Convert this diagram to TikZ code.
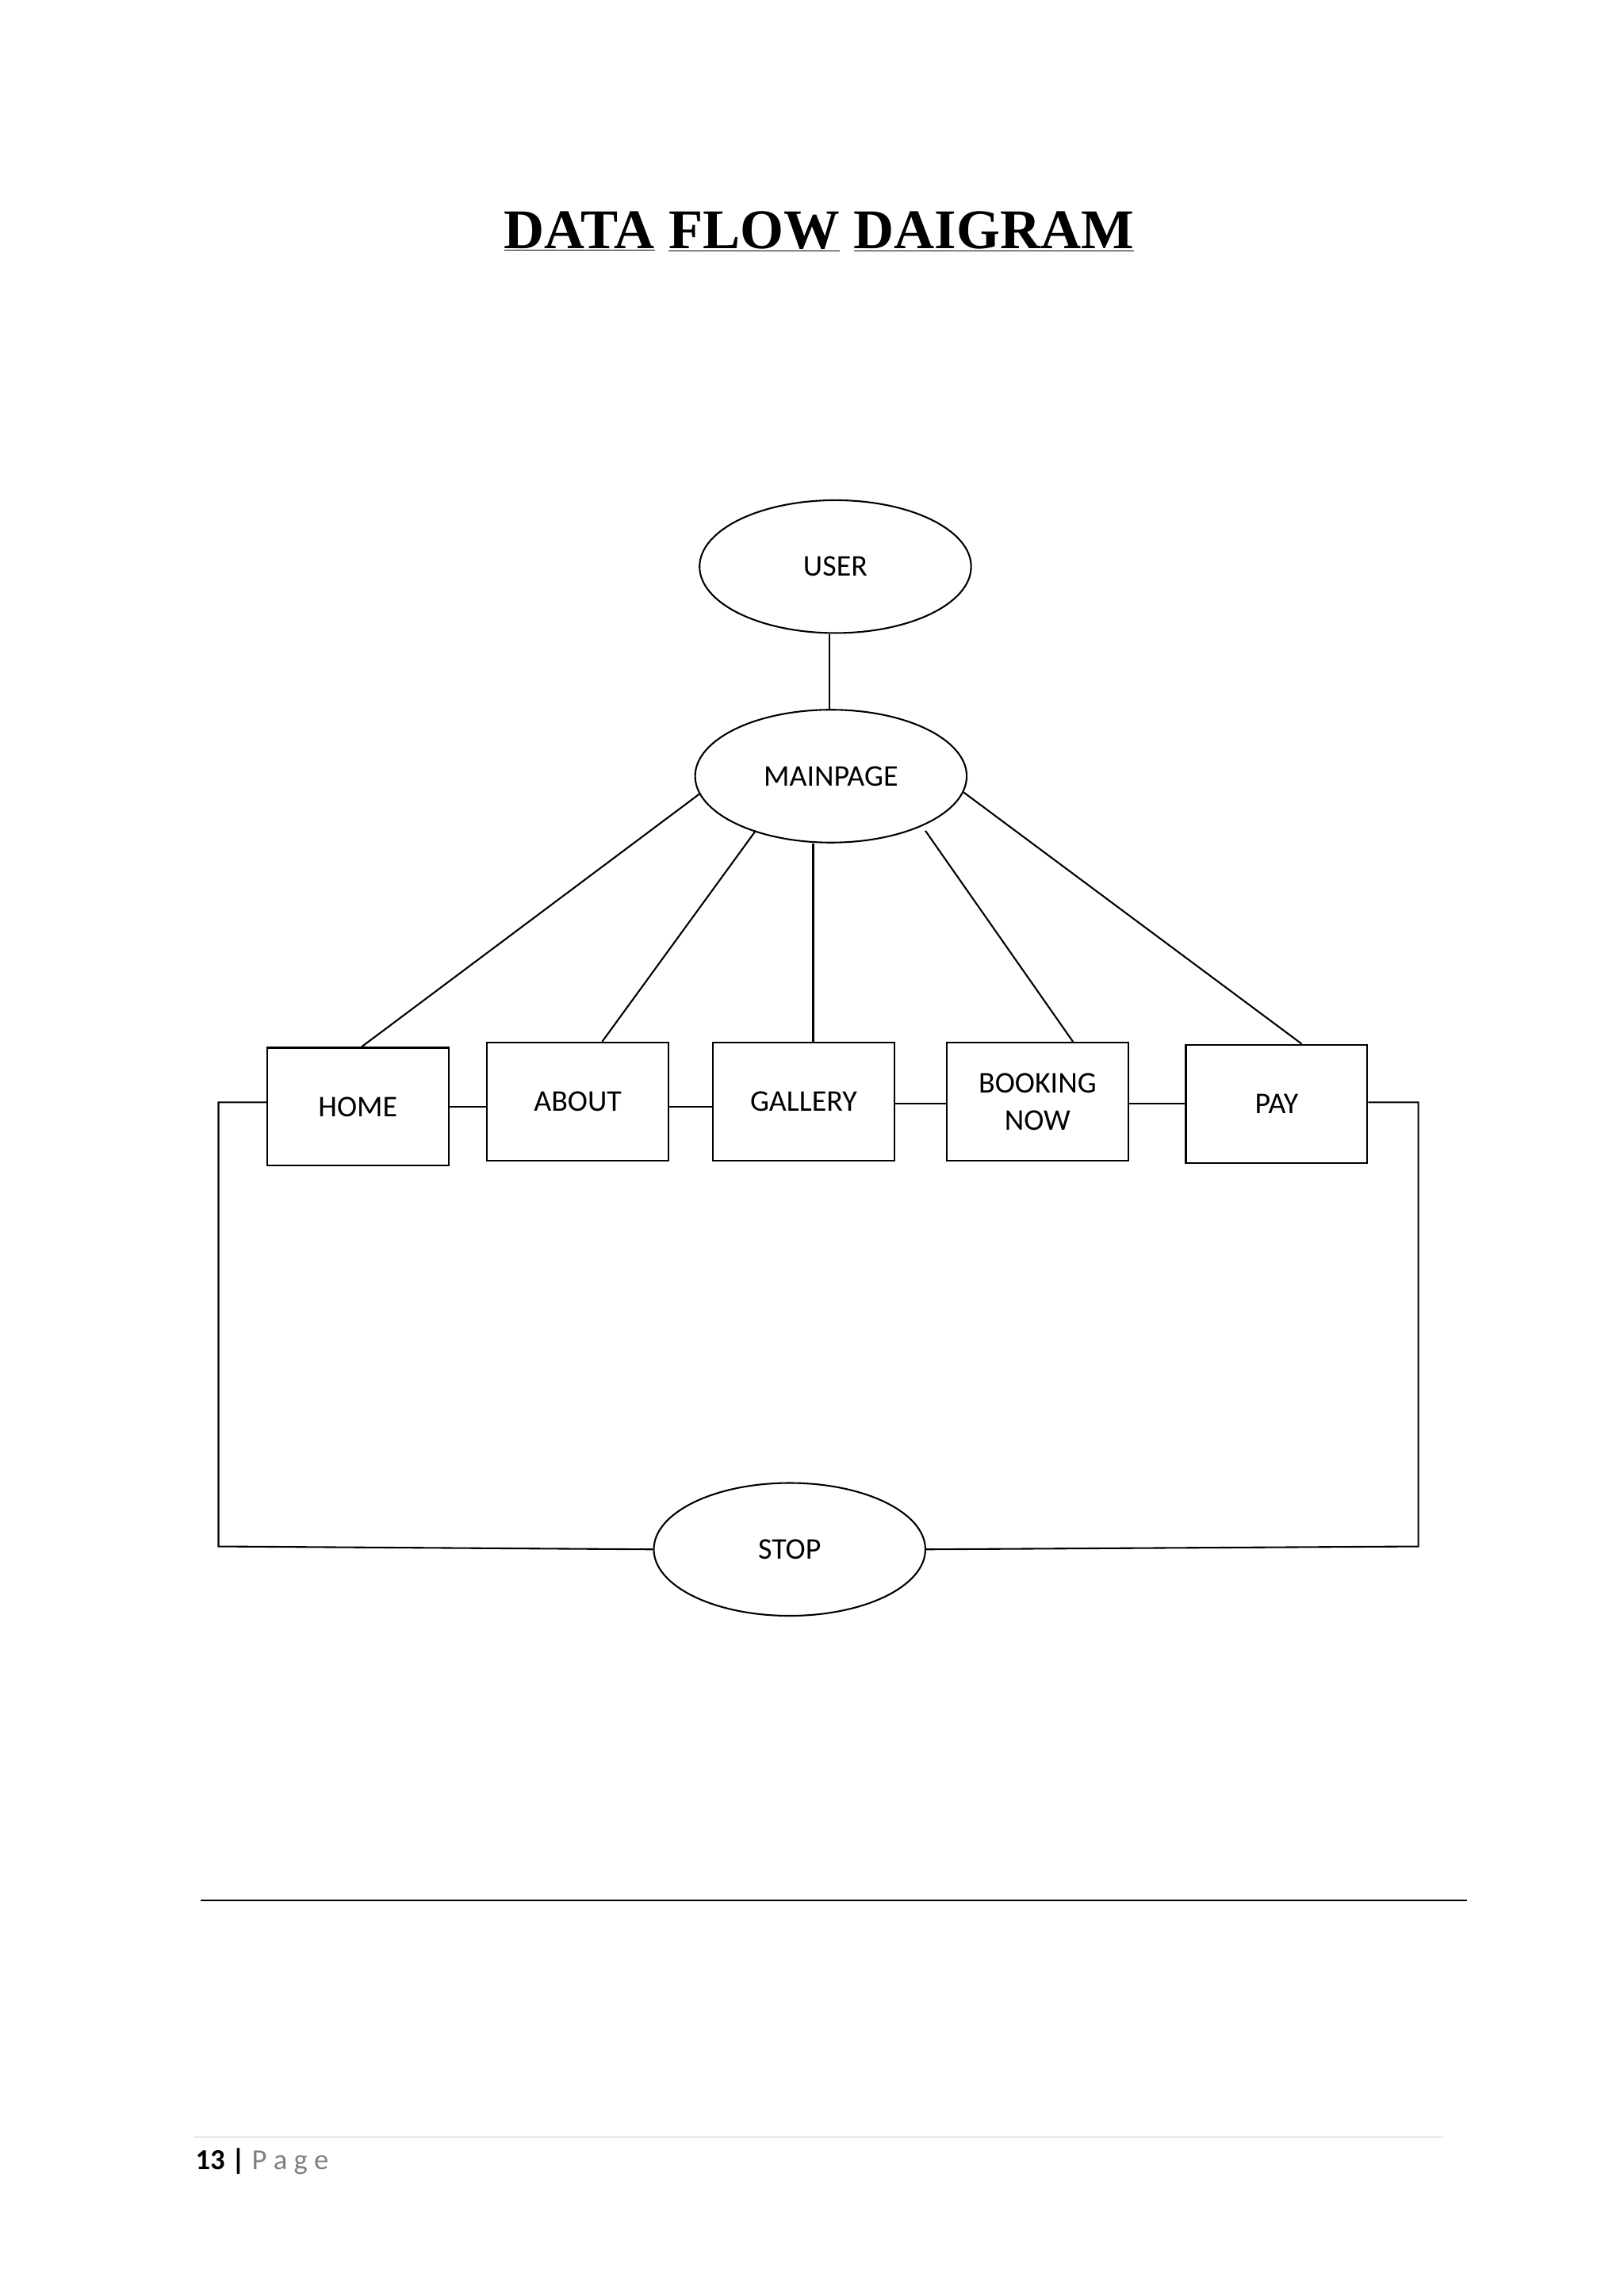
\documentclass[tikz,border=0pt]{standalone}
\usepackage{fontspec}
\setmainfont{Liberation Serif}
\newfontfamily\carlitofam{Carlito}
\usetikzlibrary{shapes.geometric}
\begin{document}
\begin{tikzpicture}[x=0.05cm,y=-0.05cm,
  ell/.style={draw,ellipse,minimum width=184*0.05cm,minimum height=90*0.05cm,line width=1.6pt,font=\carlitofam\fontsize{29}{34}\selectfont},
  bx/.style={draw,rectangle,minimum width=123*0.05cm,minimum height=80*0.05cm,line width=1.6pt,font=\carlitofam\fontsize{29}{36}\selectfont,align=center},
  ln/.style={line width=1.6pt}]
\useasboundingbox (0,0) rectangle (1100,1556);
\node[font=\bfseries\fontsize{54}{60}\selectfont] (title) at (555,157) {\underline{DATA} \underline{FLOW} \underline{DAIGRAM}};
\node[ell] (user) at (566,384) {USER};
\node[ell] (main) at (563,526) {MAINPAGE};
\node[bx] (home) at (242.5,750) {HOME};
\node[bx] (about) at (391.5,746.5) {ABOUT};
\node[bx] (gal) at (544.5,746.5) {GALLERY};
\node[bx] (book) at (703,746.5) {BOOKING\\NOW};
\node[bx] (pay) at (865,748) {PAY};
\node[ell] (stop) at (535,1050) {STOP};
\draw[ln] (user.south -| 562,0) -- (main.north -| 562,0);
\coordinate (m1) at (474,538); \coordinate (m2) at (512,563);
\coordinate (m4) at (627,563); \coordinate (m5) at (653,537);
\draw[ln] (m1) -- (home.north -| 245,0);
\draw[ln] (m2) -- (about.north -| 408,0);
\draw[ln] (main.south -| 551,0) -- (gal.north -| 551,0);
\draw[ln] (m4) -- (book.north -| 727,0);
\draw[ln] (m5) -- (pay.north -| 882,0);
\draw[ln] (home.east |- 0,750) -- (about.west |- 0,750);
\draw[ln] (about.east |- 0,750) -- (gal.west |- 0,750);
\draw[ln] (gal.east |- 0,748) -- (book.west |- 0,748);
\draw[ln] (book.east |- 0,748) -- (pay.west |- 0,748);
\draw[ln] (home.west |- 0,747) -- (148,747) -- (148,1048) -- (stop.west);
\draw[ln] (pay.east |- 0,747) -- (961,747) -- (961,1048) -- (stop.east);
\coordinate (r1) at (136,1288); \coordinate (r2) at (994,1288);
\draw[line width=1.5pt] (r1) -- (r2);
\coordinate (f1) at (131,1448); \coordinate (f2) at (978,1448);
\draw[gray!40,line width=0.8pt] (f1) -- (f2);
\node[anchor=west,font=\carlitofam\fontsize{28}{32}\selectfont] (pg) at (130,1465) {\textbf{13 |} \textcolor{gray}{P a g e}};
\end{tikzpicture}
\end{document}
